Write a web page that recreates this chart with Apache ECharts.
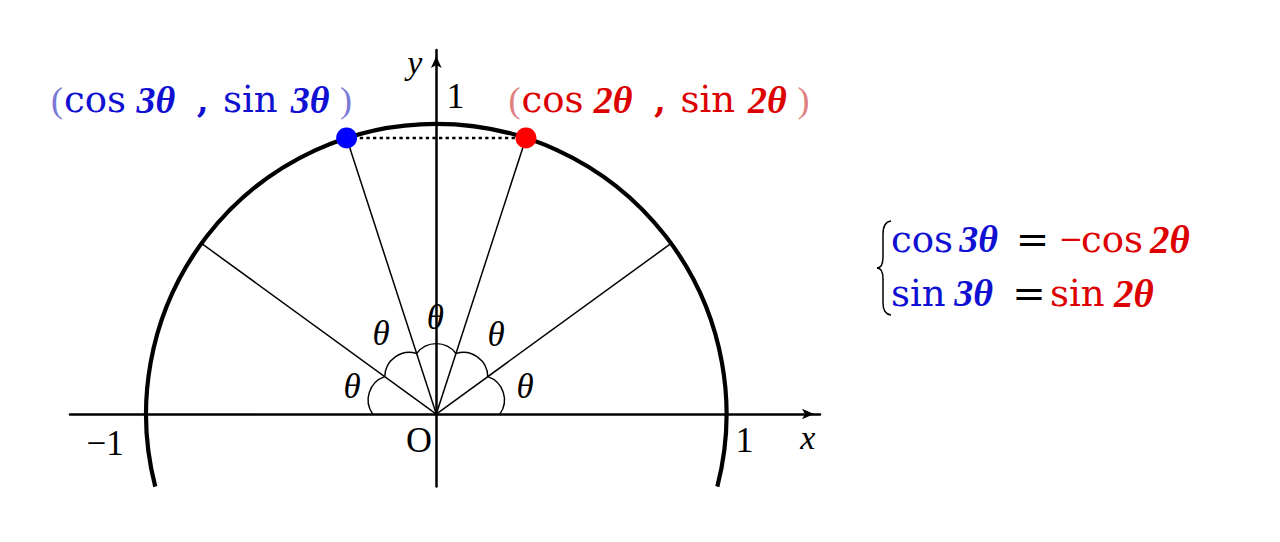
<!DOCTYPE html>
<html>
<head>
<meta charset="utf-8">
<script src="https://cdn.jsdelivr.net/npm/echarts@6/dist/echarts.min.js"></script>
<style>
html,body{margin:0;padding:0;background:#fff;}
#main{width:1280px;height:542px;}
</style>
</head>
<body>
<div id="main"></div>
<script>
// ---------- data ----------
const thetaDeg = 36;                                   // θ = π/5
const radiusAnglesDeg = [36, 72, 108, 144];            // radii drawn (θ, 2θ, 3θ, 4θ)
const circleArcDeg = [-14.48, 194.48];                 // drawn part of the unit circle
const lobeAnglesDeg = [[0, 36], [36, 72], [72, 108], [108, 144], [144, 180]];
const pointAnglesDeg = [108, 72];                      // (cos3θ, sin3θ), (cos2θ, sin2θ)
const pointNames = ['3θ', '2θ'];
const thetaLabelText = ['θ', 'θ', 'θ', 'θ', 'θ'];
const thetaLabelXY = [[0.306, 0.095], [0.206, 0.274], [-0.003, 0.334], [-0.19, 0.276], [-0.29, 0.095]];
const axisTextLabels = ['y', '1', '−1', 'O', '1', 'x'];
const axisTextXY = [[-0.074, 1.212], [0.066, 1.097], [-1.141, -0.100], [-0.060, -0.091], [1.062, -0.091], [1.280, -0.081]];
const xRange = [-1.262, 1.322];
const yRange = [-0.25, 1.254];

// ---------- helpers ----------
const rad = d => d * Math.PI / 180;
const onCircle = d => [Math.cos(rad(d)), Math.sin(rad(d))];

// ---------- styles ----------
const BLUE = '#1010d2', RED = '#dd0000';
const BLUE_P = '#7a7ad6', RED_P = '#e08080';
const axisTextStyle = [
  {size: 34, italic: true}, {size: 36}, {size: 35}, {size: 36}, {size: 36}, {size: 34, italic: true}
];
const LOBE_D = 0.158, LOBE_R = 0.0845;

function pointRich(color, pcolor) {
  const serif = 'DejaVu Serif', times = 'Liberation Serif';
  return {
    p: {color: pcolor, fontFamily: times, fontSize: 36, width: 12},
    f: {color: color, fontFamily: serif, fontSize: 37, width: 64},
    n: {color: color, fontFamily: times, fontSize: 38, fontWeight: 'bold', fontStyle: 'italic', width: 57.5},
    s: {color: color, fontFamily: serif, fontSize: 34, fontWeight: 'bold', width: 36},
    g: {color: color, fontFamily: serif, fontSize: 37, width: 59.5},
    m: {color: color, fontFamily: times, fontSize: 38, fontWeight: 'bold', fontStyle: 'italic', width: 60},
    q: {color: pcolor, fontFamily: times, fontSize: 36, width: 12}
  };
}

const chart = echarts.init(document.getElementById('main'), null, {renderer: 'svg'});

const pointData = pointAnglesDeg.map((d, i) => {
  const isBlue = i === 0;
  return {
    value: onCircle(d),
    itemStyle: {color: isBlue ? '#0000ff' : '#ff0000', opacity: 1},
    label: {
      show: true,
      opacity: 1,
      position: 'inside',
      offset: isBlue ? [-145, -38] : [133, -38],
      formatter: '{p|(}{f|cos}{n|' + pointNames[i] + '}{s|,}{g|sin}{m|' + pointNames[i] + '}{q|)}',
      rich: isBlue ? pointRich(BLUE, BLUE_P) : pointRich(RED, RED_P)
    }
  };
});

function eqRich() {
  const serif = 'DejaVu Serif', times = 'Liberation Serif';
  return {
    b1: {fill: BLUE, fontFamily: serif, fontSize: 37, width: 68.3},
    b2: {fill: BLUE, fontFamily: serif, fontSize: 37, width: 63.3},
    bn1: {fill: BLUE, fontFamily: times, fontSize: 38, fontWeight: 'bold', fontStyle: 'italic', width: 56.5},
    bn2: {fill: BLUE, fontFamily: times, fontSize: 38, fontWeight: 'bold', fontStyle: 'italic', width: 58},
    e1: {fill: '#000', fontFamily: serif, fontSize: 40, width: 42.9},
    e2: {fill: '#000', fontFamily: serif, fontSize: 40, width: 37.7},
    m: {fill: RED, fontFamily: serif, fontSize: 29, width: 22.3},
    r1: {fill: RED, fontFamily: serif, fontSize: 37, width: 69},
    r2: {fill: RED, fontFamily: serif, fontSize: 37, width: 64},
    rn: {fill: RED, fontFamily: times, fontSize: 39, fontWeight: 'bold', fontStyle: 'italic'}
  };
}

const braceStyle = {stroke: '#000', lineWidth: 1.5, fill: 'none'};

const option = {
  backgroundColor: '#fff',
  animation: false,
  grid: {left: 70, right: 460, top: 50, bottom: 55.4, containLabel: false},
  xAxis: {
    type: 'value', min: xRange[0], max: xRange[1],
    axisLine: {onZero: true, symbol: ['none', 'arrow'], symbolSize: [8, 12], symbolOffset: [0, -6],
      lineStyle: {color: '#000', width: 2.5}},
    axisTick: {show: false}, axisLabel: {show: false}, splitLine: {show: false}
  },
  yAxis: {
    type: 'value', min: yRange[0], max: yRange[1],
    axisLine: {onZero: true, symbol: ['none', 'arrow'], symbolSize: [8, 12], symbolOffset: [0, -6],
      lineStyle: {color: '#000', width: 2.5}},
    axisTick: {show: false}, axisLabel: {show: false}, splitLine: {show: false}
  },
  series: [
    { // radii
      type: 'custom', name: 'radii', z: 3,
      data: radiusAnglesDeg.map(d => onCircle(d)),
      renderItem: (params, api) => {
        const o = api.coord([0, 0]);
        const p = api.coord([api.value(0), api.value(1)]);
        return {type: 'line', shape: {x1: o[0], y1: o[1], x2: p[0], y2: p[1]},
          style: {stroke: '#000', lineWidth: 1.5}};
      }
    },
    { // angle lobes
      type: 'custom', name: 'lobes', z: 3,
      data: lobeAnglesDeg,
      renderItem: (params, api) => {
        const a0 = rad(api.value(0)), a1 = rad(api.value(1));
        const phi = (a0 + a1) / 2, half = (a1 - a0) / 2;
        const e = LOBE_D * Math.cos(half) + Math.sqrt(LOBE_R * LOBE_R - Math.pow(LOBE_D * Math.sin(half), 2));
        const cx = LOBE_D * Math.cos(phi), cy = LOBE_D * Math.sin(phi);
        const ang = a => Math.atan2(e * Math.sin(a) - cy, e * Math.cos(a) - cx);
        const c = api.coord([cx, cy]);
        const rp = api.size([LOBE_R, 0])[0];
        return {type: 'arc', shape: {cx: c[0], cy: c[1], r: rp, startAngle: -ang(a0), endAngle: -ang(a1), clockwise: false},
          style: {stroke: '#000', lineWidth: 1.4, fill: 'none'}};
      }
    },
    { // unit circle arc
      type: 'custom', name: 'circle', z: 4,
      data: [[0, 0]],
      renderItem: (params, api) => {
        const c = api.coord([0, 0]);
        const r = api.size([1, 0])[0];
        return {type: 'arc', shape: {cx: c[0], cy: c[1], r: r, startAngle: -rad(circleArcDeg[0]), endAngle: -rad(circleArcDeg[1]), clockwise: false},
          style: {stroke: '#000', lineWidth: 4.2, fill: 'none'}};
      }
    },
    { // dotted connector
      type: 'line', name: 'connector', z: 5, symbol: 'none', silent: true,
      data: pointAnglesDeg.map(d => onCircle(d)),
      lineStyle: {color: '#000', width: 2.6, type: [3.3, 3.3]}
    },
    { // points
      type: 'scatter', name: 'points', z: 6, symbolSize: 21,
      data: pointData
    },
    { // θ labels
      type: 'custom', name: 'thetaLabels', z: 7,
      data: thetaLabelXY,
      renderItem: (params, api) => {
        const p = api.coord([api.value(0), api.value(1)]);
        return {type: 'text', x: p[0], y: p[1],
          style: {text: thetaLabelText[params.dataIndex], fontFamily: 'Liberation Serif', fontSize: 35, fontStyle: 'italic',
            fill: '#000', align: 'center', verticalAlign: 'middle'}};
      }
    },
    { // axis texts
      type: 'custom', name: 'axisTexts', z: 7,
      data: axisTextXY,
      renderItem: (params, api) => {
        const p = api.coord([api.value(0), api.value(1)]);
        const st = axisTextStyle[params.dataIndex];
        return {type: 'text', x: p[0], y: p[1],
          style: {text: axisTextLabels[params.dataIndex], fontFamily: 'Liberation Serif', fontSize: st.size,
            fontStyle: st.italic ? 'italic' : 'normal', fill: '#000', align: 'center', verticalAlign: 'middle'}};
      }
    }
  ],
  graphic: [
    {type: 'group', children: [
      {type: 'bezierCurve', shape: {x1: 891, y1: 221, cpx1: 883, cpy1: 222, x2: 883, y2: 234}, style: braceStyle},
      {type: 'line', shape: {x1: 883, y1: 234, x2: 883, y2: 257}, style: braceStyle},
      {type: 'bezierCurve', shape: {x1: 883, y1: 257, cpx1: 883, cpy1: 268, x2: 877, y2: 268}, style: braceStyle},
      {type: 'bezierCurve', shape: {x1: 877, y1: 268, cpx1: 883, cpy1: 268, x2: 883, y2: 279}, style: braceStyle},
      {type: 'line', shape: {x1: 883, y1: 279, x2: 883, y2: 303}, style: braceStyle},
      {type: 'bezierCurve', shape: {x1: 883, y1: 303, cpx1: 883, cpy1: 314, x2: 891, y2: 315}, style: braceStyle}
    ]},
    {type: 'text', x: 891, y: 239, style: {text: '{b1|cos}{bn1|3θ}{e1|=}{m|−}{r1|cos}{rn|2θ}', rich: eqRich(), verticalAlign: 'middle', align: 'left'}},
    {type: 'text', x: 891, y: 293, style: {text: '{b2|sin}{bn2|3θ}{e2|=}{r2|sin}{rn|2θ}', rich: eqRich(), verticalAlign: 'middle', align: 'left'}}
  ]
};
chart.setOption(option);
</script>
</body>
</html>
